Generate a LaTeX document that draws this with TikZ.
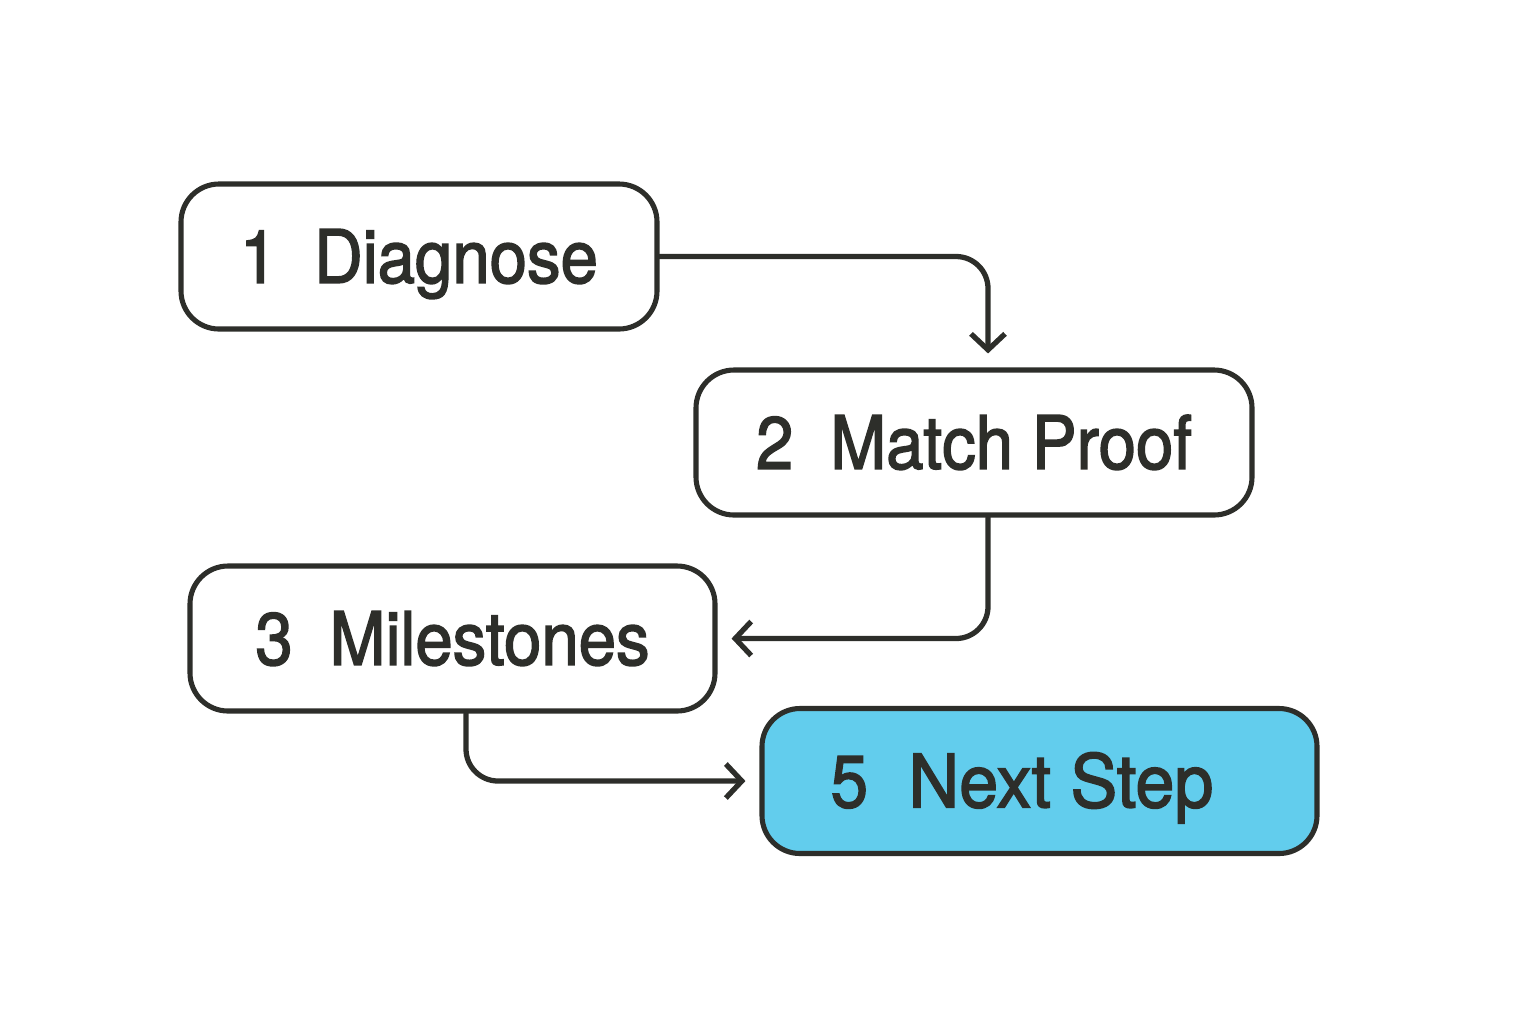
\documentclass[tikz,border=0pt]{standalone}
\usepackage{fontspec}
\setmainfont{TeX Gyre Heros}
\newfontfamily\boxfont{TeX Gyre Heros}[FakeBold=2, FakeStretch=0.91]
\usetikzlibrary{arrows.meta, positioning}
\definecolor{ink}{HTML}{2D2E2A}
\definecolor{nextblue}{HTML}{62CDED}

\begin{document}
\begin{tikzpicture}[
        stepbox/.style={draw=ink, line width=1.45pt, rounded corners=0.38cm,
            fill=white, text=ink, minimum height=1.45cm,
            text height=15pt, text depth=0pt,
            font=\boxfont\fontsize{21}{24}\selectfont},
        link/.style={draw=ink, line width=1.5pt, rounded corners=0.32cm,
            line cap=round, shorten >=0.14cm,
            -{Straight Barb[length=1.6mm, width=3.4mm, line width=1.5pt]}}
    ]
    \useasboundingbox (0,0) rectangle (15.36,-10.24);

    % the four steps
    \node[stepbox, minimum width=4.76cm] (diag)  at (4.19,-2.565) {1\hspace{0.5em}Diagnose};
    \node[stepbox, minimum width=5.56cm] (match) at (9.74,-4.425) {2\hspace{0.5em}Match Proof};
    \node[stepbox, minimum width=5.25cm] (miles) at (4.525,-6.385) {3\hspace{0.5em}Milestones};
    \node[stepbox, minimum width=5.55cm, fill=nextblue] (next) at (10.395,-7.81) {5\hspace{0.55em}\addfontfeature{FakeStretch=0.95}Next Step\kern0.35cm};

    % connectors
    \draw[link] (diag.east) -| ([xshift=0.14cm]match.north);
    \draw[link] ([xshift=0.14cm]match.south) |- (miles.east);
    \draw[link] ([xshift=0.135cm]miles.south) |- (next.west);
\end{tikzpicture}
\end{document}
